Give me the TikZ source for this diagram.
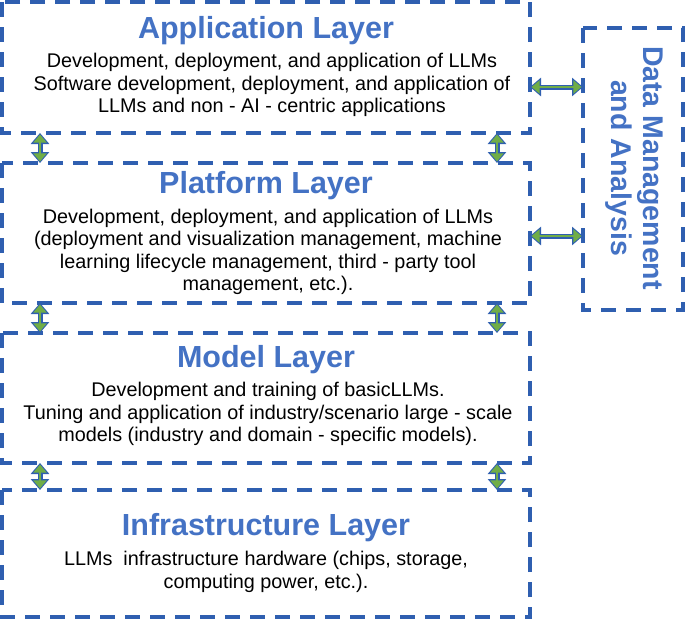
\documentclass[tikz,border=0pt]{standalone}
\usepackage{fontspec}
\setmainfont{Liberation Sans}
\usetikzlibrary{arrows.meta}
\definecolor{lblue}{HTML}{2F5FB0}
\definecolor{tblue}{HTML}{4472C4}
\definecolor{agreen}{HTML}{70AD47}
\begin{document}
\begin{tikzpicture}[x=1pt,y=-1pt,
  layer/.style={draw=lblue,line width=3.8pt,dash pattern=on 15pt off 10pt},
  ttl/.style={font=\fontsize{30.5}{34}\selectfont\bfseries,text=tblue},
  body/.style={font=\fontsize{19.8}{22.5}\selectfont,align=center},
  conn/.style={line width=5pt,draw=lblue,{Triangle[width=18pt,length=11pt]}-{Triangle[width=18pt,length=11pt]}},
  conni/.style={line width=2.8pt,draw=agreen,{Triangle[width=13pt,length=8pt]}-{Triangle[width=13pt,length=8pt]},shorten <=1.6pt,shorten >=1.6pt}]
\useasboundingbox (0,0) rectangle (685,621);
\draw[layer] (2,2) rectangle (530,133);
\draw[layer] (2,163) rectangle (530,303);
\draw[layer] (2,333) rectangle (530,463);
\draw[layer] (2,490) rectangle (530,617);
\draw[layer] (583,28) rectangle (683,310);
\node[ttl] (t1) at (266,31) {Application Layer};
\node[body] (b1) at (272,85) {Development, deployment, and application of LLMs\\Software development, deployment, and application of\\LLMs and non - AI - centric applications};
\node[ttl] (t2) at (266,186) {Platform Layer};
\node[body] (b2) at (268,252) {Development, deployment, and application of LLMs\\(deployment and visualization management, machine\\learning lifecycle management, third - party tool\\management, etc.).};
\node[ttl] (t3) at (266,360) {Model Layer};
\node[body] (b3) at (268,414) {Development and training of basicLLMs.\\Tuning and application of industry/scenario large - scale\\models (industry and domain - specific models).};
\node[ttl] (t4) at (266,528) {Infrastructure Layer};
\node[body] (b4) at (266,572) {LLMs\ \ infrastructure hardware (chips, storage,\\computing power, etc.).};
\node[ttl,rotate=-90,align=center,font=\fontsize{28.5}{32}\selectfont\bfseries] (td) at (634,168) {Data Management\\and Analysis};
\foreach \x in {40,497}{
 \foreach \a/\b in {133/163,303/333,463/490}{
  \coordinate (p) at (\x,\a); \coordinate (q) at (\x,\b);
  \draw[conn] (p) -- (q); \draw[conni] (p) -- (q);
 }}
\foreach \y in {87,236}{
  \coordinate (p) at (530,\y); \coordinate (q) at (583,\y);
  \draw[conn] (p) -- (q); \draw[conni] (p) -- (q);
}
\end{tikzpicture}
\end{document}
